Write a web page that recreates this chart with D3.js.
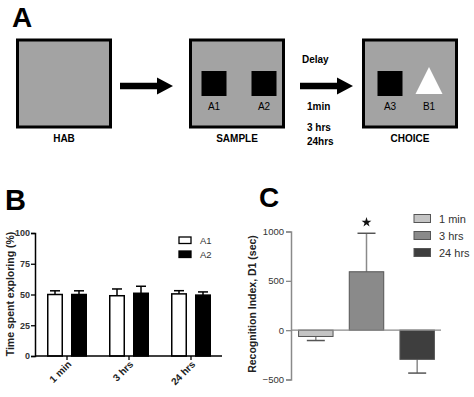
<!DOCTYPE html>
<html>
<head>
<meta charset="utf-8">
<script src="https://cdn.jsdelivr.net/npm/d3@7"></script>
<style>
  body { margin: 0; background: #fff; }
  svg { display: block; font-family: "Liberation Sans", Arial, sans-serif; }
</style>
</head>
<body>
<div id="chart"></div>
<script>
// Panel A: schematic
const stages = ["HAB", "SAMPLE", "CHOICE"]
const sampleObjects = ["A1", "A2"]
const choiceObjects = ["A3", "B1"]
const delays = ["1min", "3 hrs", "24hrs"]

// Panel B: time spent exploring (%)
const delayGroups = ["1 min", "3 hrs", "24 hrs"]
const objectKeys = ["A1", "A2"]
const exploreMean = { A1: [50, 49, 50.5], A2: [50, 51, 49.5] }
const exploreErr = { A1: [3, 5.5, 2.6], A2: [3, 5.7, 2.6] }
const exploreTicks = [0, 25, 50, 75, 100]

// Panel C: recognition index D1 (sec)
const recogMean = [-64, 592, -296]
const recogErr = [41, 390, 139]
const recogColors = ["#c4c4c4", "#8a8a8a", "#3e3e3e"]
const recogTicks = [-500, 0, 500, 1000]

const width = 474, height = 397

const svg = d3.select("#chart").append("svg")
  .attr("width", width)
  .attr("height", height)
  .attr("viewBox", [0, 0, width, height])

// ---------- Panel A ----------
const gA = svg.append("g")
gA.append("text").attr("x", 12).attr("y", 27)
  .attr("font-size", 28).attr("font-weight", "bold").text("A")

const stageX = d3.scalePoint().domain(stages).range([64, 410])
const boxW = 93, boxTop = 40, boxH = 87

gA.selectAll("rect.box")
  .data(stages)
  .join("rect")
    .attr("class", "box")
    .attr("x", d => stageX(d) - boxW / 2)
    .attr("y", boxTop)
    .attr("width", boxW)
    .attr("height", boxH)
    .attr("fill", "#a3a3a3")
    .attr("stroke", "#000")
    .attr("stroke-width", 3)

gA.selectAll("text.stage")
  .data(stages)
  .join("text")
    .attr("class", "stage")
    .attr("x", d => stageX(d))
    .attr("y", 142)
    .attr("text-anchor", "middle")
    .attr("font-size", 10)
    .attr("font-weight", "bold")
    .text(d => d)

// objects inside boxes
const objOffset = d3.scalePoint().domain([0, 1]).range([-23, 27])
const sampleCx = stageX("SAMPLE"), choiceCx = stageX("CHOICE")
const objSize = 25, objTop = 71

gA.selectAll("rect.sobj")
  .data(sampleObjects)
  .join("rect")
    .attr("class", "sobj")
    .attr("x", (d, i) => sampleCx + objOffset(i) - objSize / 2)
    .attr("y", objTop)
    .attr("width", objSize).attr("height", objSize)
    .attr("fill", "#000")

gA.selectAll("text.slab")
  .data(sampleObjects)
  .join("text")
    .attr("class", "slab")
    .attr("x", (d, i) => sampleCx + objOffset(i))
    .attr("y", 110)
    .attr("text-anchor", "middle")
    .attr("font-size", 10)
    .text(d => d)

const choiceOffset = d3.scalePoint().domain([0, 1]).range([-20, 19])
gA.append("rect")
  .attr("x", choiceCx + choiceOffset(0) - objSize / 2)
  .attr("y", objTop)
  .attr("width", objSize).attr("height", objSize)
  .attr("fill", "#000")

const triCx = choiceCx + choiceOffset(1)
gA.append("path")
  .attr("d", `M${triCx},67 L${triCx + 13.5},94 L${triCx - 13.5},94 Z`)
  .attr("fill", "#fff")

gA.selectAll("text.clab")
  .data(choiceObjects)
  .join("text")
    .attr("class", "clab")
    .attr("x", (d, i) => choiceCx + choiceOffset(i))
    .attr("y", 110)
    .attr("text-anchor", "middle")
    .attr("font-size", 10)
    .text(d => d)

// arrows between stages
function arrow(x0, x1, y) {
  gA.append("path")
    .attr("d", `M${x0},${y - 3.3} L${x1 - 16},${y - 3.3} L${x1 - 16},${y - 8.5} L${x1},${y}
      L${x1 - 16},${y + 8.5} L${x1 - 16},${y + 3.3} L${x0},${y + 3.3} Z`)
    .attr("fill", "#000")
}
arrow(120, 173, 86)
arrow(300, 353, 86)

gA.append("text").attr("x", 302).attr("y", 63)
  .attr("font-size", 10).attr("font-weight", "bold").text("Delay")

gA.selectAll("text.delay")
  .data(delays)
  .join("text")
    .attr("class", "delay")
    .attr("x", 307)
    .attr("y", (d, i) => [110, 131, 145][i])
    .attr("font-size", 10)
    .attr("font-weight", "bold")
    .text(d => d)

// ---------- Panel B ----------
const gB = svg.append("g")
gB.append("text").attr("x", 5).attr("y", 210)
  .attr("font-size", 29).attr("font-weight", "bold").text("B")

const xB = d3.scaleBand().domain(delayGroups).range([36, 222])
const x1B = d3.scaleBand().domain(objectKeys).range([-20, 20]).paddingInner(1 / 3)
const yB = d3.scaleLinear().domain([0, 100]).range([356, 233])

const barsB = gB.append("g")
objectKeys.forEach(k => {
  const g = barsB.append("g")
  const cx = (d, i) => xB(delayGroups[i]) + xB.bandwidth() / 2 + x1B(k)
  // error bars
  g.selectAll("line.err")
    .data(exploreMean[k])
    .join("line")
      .attr("x1", (d, i) => cx(d, i) + x1B.bandwidth() / 2)
      .attr("x2", (d, i) => cx(d, i) + x1B.bandwidth() / 2)
      .attr("y1", d => yB(d))
      .attr("y2", (d, i) => yB(d + exploreErr[k][i]))
      .attr("stroke", "#000").attr("stroke-width", 1.5)
  g.selectAll("line.cap")
    .data(exploreMean[k])
    .join("line")
      .attr("x1", (d, i) => cx(d, i) + x1B.bandwidth() / 2 - 5)
      .attr("x2", (d, i) => cx(d, i) + x1B.bandwidth() / 2 + 5)
      .attr("y1", (d, i) => yB(d + exploreErr[k][i]))
      .attr("y2", (d, i) => yB(d + exploreErr[k][i]))
      .attr("stroke", "#000").attr("stroke-width", 1.5)
  g.selectAll("rect")
    .data(exploreMean[k])
    .join("rect")
      .attr("x", (d, i) => cx(d, i) + 0.75)
      .attr("y", d => yB(d))
      .attr("width", x1B.bandwidth() - 1.5)
      .attr("height", d => yB(0) - yB(d))
      .attr("fill", k === "A1" ? "#fff" : "#000")
      .attr("stroke", "#000").attr("stroke-width", 1.5)
})

gB.append("g")
  .attr("transform", `translate(35,0)`)
  .call(d3.axisLeft(yB).tickValues(exploreTicks).tickSize(4).tickPadding(1))
  .call(g => g.select(".domain").attr("stroke-width", 1.5))
  .call(g => g.selectAll("line").attr("stroke-width", 1.3))
  .call(g => g.selectAll("text").attr("font-size", 9).attr("font-weight", "bold")
    .attr("font-family", null).attr("fill", "#333"))

gB.append("g")
  .attr("transform", `translate(0,356)`)
  .call(d3.axisBottom(xB).tickSize(4).tickSizeOuter(0))
  .call(g => g.select(".domain").attr("stroke-width", 1.5).attr("d", "M35,0H222"))
  .call(g => g.selectAll("line").attr("stroke-width", 1.3))
  .call(g => g.selectAll("text")
    .attr("font-size", 10).attr("font-weight", "bold").attr("font-family", null)
    .attr("fill", "#222")
    .attr("text-anchor", "end")
    .attr("dy", null).attr("y", 0)
    .attr("transform", "translate(5,9) rotate(-45)"))

gB.append("text")
  .attr("transform", "translate(14,294) rotate(-90)")
  .attr("text-anchor", "middle")
  .attr("font-size", 10.5).attr("font-weight", "bold").attr("fill", "#222")
  .text("Time spent exploring (%)")

const legB = gB.selectAll("g.leg")
  .data(objectKeys)
  .join("g")
    .attr("class", "leg")
    .attr("transform", (d, i) => `translate(179,${237 + i * 14})`)
legB.append("rect")
  .attr("width", 12).attr("height", 6.5)
  .attr("fill", d => d === "A1" ? "#fff" : "#000")
  .attr("stroke", "#000").attr("stroke-width", 1.3)
legB.append("text")
  .attr("x", 21).attr("y", 7)
  .attr("font-size", 9.5).attr("fill", "#333")
  .text(d => d)

// ---------- Panel C ----------
const gC = svg.append("g")
gC.append("text").attr("x", 259).attr("y", 207)
  .attr("font-size", 28).attr("font-weight", "bold").text("C")

const xC = d3.scaleBand().domain(delayGroups).range([292, 441]).paddingInner(0.32).paddingOuter(0.13)
const yC = d3.scaleLinear().domain([-500, 1000]).range([379.5, 231.5])
const grey = "#8a8a8a"

gC.selectAll("line.err")
  .data(recogMean)
  .join("line")
    .attr("class", "err")
    .attr("x1", (d, i) => xC(delayGroups[i]) + xC.bandwidth() / 2)
    .attr("x2", (d, i) => xC(delayGroups[i]) + xC.bandwidth() / 2)
    .attr("y1", d => yC(d))
    .attr("y2", (d, i) => yC(d + Math.sign(d) * recogErr[i]))
    .attr("stroke", grey).attr("stroke-width", 1.5)

gC.selectAll("line.cap")
  .data(recogMean)
  .join("line")
    .attr("class", "cap")
    .attr("x1", (d, i) => xC(delayGroups[i]) + xC.bandwidth() / 2 - 9)
    .attr("x2", (d, i) => xC(delayGroups[i]) + xC.bandwidth() / 2 + 9)
    .attr("y1", (d, i) => yC(d + Math.sign(d) * recogErr[i]))
    .attr("y2", (d, i) => yC(d + Math.sign(d) * recogErr[i]))
    .attr("stroke", "#555").attr("stroke-width", 1.5)

gC.selectAll("rect.bar")
  .data(recogMean)
  .join("rect")
    .attr("class", "bar")
    .attr("x", (d, i) => xC(delayGroups[i]))
    .attr("y", d => yC(Math.max(0, d)))
    .attr("width", xC.bandwidth())
    .attr("height", d => Math.abs(yC(d) - yC(0)))
    .attr("fill", (d, i) => recogColors[i])
    .attr("stroke", "#555").attr("stroke-width", 1)

// zero line
gC.append("line")
  .attr("x1", 291).attr("x2", 441)
  .attr("y1", yC(0)).attr("y2", yC(0))
  .attr("stroke", grey).attr("stroke-width", 1.3)

gC.append("g")
  .attr("transform", `translate(291,0)`)
  .call(d3.axisLeft(yC).tickValues(recogTicks).tickFormat(d3.format("d")).tickSize(5).tickPadding(2))
  .call(g => g.select(".domain").attr("stroke", grey).attr("stroke-width", 1.5))
  .call(g => g.selectAll("line").attr("stroke", grey).attr("stroke-width", 1.3))
  .call(g => g.selectAll("text").attr("font-size", 9.5).attr("font-family", null)
    .attr("fill", "#333"))

// significance star
gC.append("path")
  .attr("transform", `translate(${xC("3 hrs") + xC.bandwidth() / 2},${yC(recogMean[1] + recogErr[1]) - 11})`)
  .attr("d", d3.symbol(d3.symbolStar, 30)())
  .attr("fill", "#111")

gC.append("text")
  .attr("transform", "translate(256,304) rotate(-90)")
  .attr("text-anchor", "middle")
  .attr("font-size", 10.5).attr("font-weight", "bold").attr("fill", "#222")
  .text("Recognition Index, D1 (sec)")

const legC = gC.selectAll("g.leg")
  .data(delayGroups)
  .join("g")
    .attr("class", "leg")
    .attr("transform", (d, i) => `translate(414,${214.5 + i * 17})`)
legC.append("rect")
  .attr("width", 16.5).attr("height", 8)
  .attr("fill", (d, i) => recogColors[i])
  .attr("stroke", "#555").attr("stroke-width", 1)
legC.append("text")
  .attr("x", 25).attr("y", 8.5)
  .attr("font-size", 11).attr("fill", "#333")
  .text(d => d)
</script>
</body>
</html>
